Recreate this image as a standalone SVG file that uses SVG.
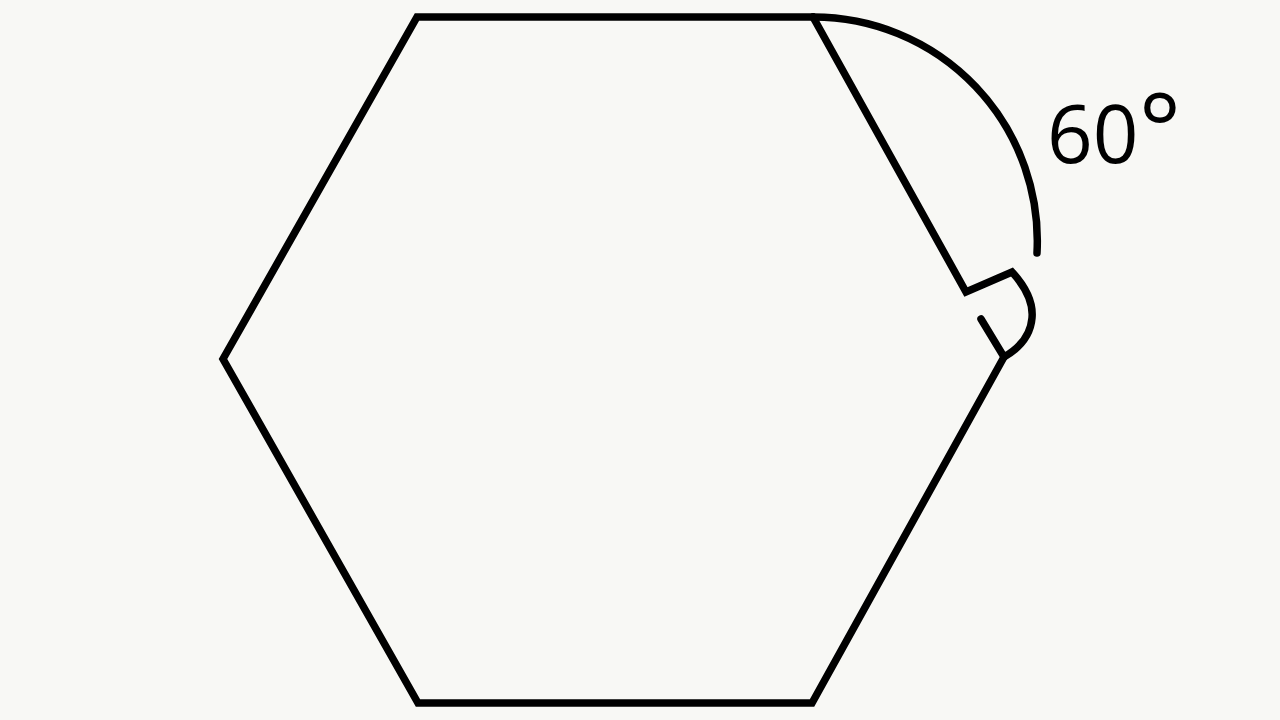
<svg xmlns="http://www.w3.org/2000/svg" width="1280" height="720" viewBox="0 0 1280 720">
<style>
.ln{fill:none;stroke:#000;stroke-width:7.5;stroke-linejoin:miter;stroke-linecap:round}
.lbl{font-family:"Open Sans","Noto Sans",sans-serif;font-size:80px;fill:#000}
</style>
<rect width="1280" height="720" fill="#f8f8f5"/>
<g id="hexagon">
<path class="ln" d="M813,17 L417,17 L223,359 L418,703 L812,703 L1004,357"/>
<path class="ln" d="M813,17 L966,292 L1012,272 Q1034,296 1032,318 Q1030,342 1004,357 L981,319"/>
</g>
<g id="angle">
<path class="ln" d="M813,17 A224,224 0 0 1 1037,253"/>
<text class="lbl" x="1047" y="163">60<tspan font-size="100" dy="2">°</tspan></text>
</g>
</svg>
